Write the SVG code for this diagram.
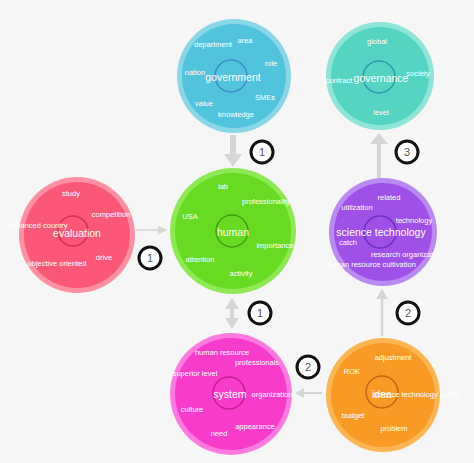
<svg xmlns="http://www.w3.org/2000/svg" width="474" height="463" viewBox="0 0 474 463">
<defs>
<style>
.s{font-family:"Liberation Sans",Arial,sans-serif;font-size:7.5px;fill:#fff;text-anchor:middle}
.b{font-family:"Liberation Sans",Arial,sans-serif;font-size:10.5px;fill:#fff;text-anchor:middle}
.core{fill:none;stroke-width:1.5}
.badge circle{fill:#fff;stroke:#111;stroke-width:3}
.badge text{font-family:"Liberation Sans",Arial,sans-serif;font-size:11px;fill:#555;text-anchor:middle}
.arr{stroke:#d6d6d6;fill:none}
.hd{fill:#d6d6d6}
</style>
</defs>
<rect width="474" height="463" fill="#f6f6f6"/>

<g id="connectors">
<path class="arr" d="M233,135 V155" stroke-width="6"/>
<polygon class="hd" points="224,154 242,154 233,167"/>
<path class="arr" d="M135,230 H160" stroke-width="1.5"/>
<polygon class="hd" points="158,225.5 167,230 158,234.5"/>
<path class="arr" d="M232,308 V320" stroke-width="4"/>
<polygon class="hd" points="225,309 239,309 232,298"/>
<polygon class="hd" points="225,318 239,318 232,329"/>
<path class="arr" d="M322,393 H302" stroke-width="2"/>
<polygon class="hd" points="304,388 295,393 304,398"/>
<path class="arr" d="M382,336 V297" stroke-width="2.5"/>
<polygon class="hd" points="376,299 388,299 382,289"/>
<path class="arr" d="M379,180 V142" stroke-width="4"/>
<polygon class="hd" points="370,144 388,144 379,133"/>
</g>

<g id="government">
<circle cx="234" cy="76" r="57" fill="#8ad6e8"/>
<circle cx="234" cy="76" r="52" fill="#52c3dc"/>
<circle class="core" cx="231" cy="76" r="16" stroke="#3f8ccc"/>
<text class="s" x="213" y="47">department</text>
<text class="s" x="245" y="43">area</text>
<text class="s" x="271" y="66">role</text>
<text class="s" x="195" y="75">nation</text>
<text class="b" x="233" y="81">government</text>
<text class="s" x="265" y="100">SMEs</text>
<text class="s" x="204" y="106">value</text>
<text class="s" x="236" y="117">knowledge</text>
</g>

<g id="governance">
<circle cx="380" cy="76" r="54" fill="#8ee4d8"/>
<circle cx="380" cy="76" r="49" fill="#55d3c3"/>
<circle class="core" cx="379" cy="77" r="16" stroke="#2f9aa8"/>
<text class="s" x="377" y="44">global</text>
<text class="s" x="339" y="83">contract</text>
<text class="b" x="381" y="82">governance</text>
<text class="s" x="418" y="76">society</text>
<text class="s" x="381" y="115">level</text>
</g>

<g id="evaluation">
<circle cx="77" cy="235" r="58" fill="#ff8fa3"/>
<circle cx="77" cy="235" r="53" fill="#fb5878"/>
<circle class="core" cx="73" cy="231" r="15" stroke="#d43050"/>
<text class="s" x="71" y="196">study</text>
<text class="s" x="111" y="217">competition</text>
<text class="s" x="38" y="228">advanced country</text>
<text class="b" x="77" y="237">evaluation</text>
<text class="s" x="104" y="260">drive</text>
<text class="s" x="57" y="266">objective oriented</text>
</g>

<g id="human">
<circle cx="233" cy="231" r="63" fill="#8ee854"/>
<circle cx="233" cy="231" r="58" fill="#66db22"/>
<circle class="core" cx="232" cy="231" r="16" stroke="#3fa010"/>
<text class="s" x="223" y="189">lab</text>
<text class="s" x="266" y="204">professionality</text>
<text class="s" x="190" y="219">USA</text>
<text class="b" x="233" y="236">human</text>
<text class="s" x="275" y="248">importance</text>
<text class="s" x="200" y="262">attention</text>
<text class="s" x="241" y="276">activity</text>
</g>

<g id="science-technology">
<circle cx="383" cy="232" r="54" fill="#b98af0"/>
<circle cx="383" cy="232" r="49" fill="#9f50e6"/>
<circle class="core" cx="380" cy="232" r="16" stroke="#6a2ec0"/>
<text class="s" x="389" y="200">related</text>
<text class="s" x="357" y="210">utilization</text>
<text class="s" x="414" y="223">technology</text>
<text class="b" x="381" y="236">science technology</text>
<text class="s" x="348" y="245">catch</text>
<text class="s" x="407" y="257">research organization</text>
<text class="s" x="371" y="267">human resource cultivation</text>
</g>

<g id="system">
<circle cx="231" cy="394" r="61" fill="#ff7ae0"/>
<circle cx="231" cy="394" r="56" fill="#f73ccc"/>
<circle class="core" cx="229" cy="393" r="16" stroke="#c0208f"/>
<text class="s" x="222" y="355">human resource</text>
<text class="s" x="257" y="365">professionals</text>
<text class="s" x="195" y="376">superior level</text>
<text class="b" x="230" y="398">system</text>
<text class="s" x="272" y="397">organization</text>
<text class="s" x="192" y="412">culture</text>
<text class="s" x="255" y="429">appearance</text>
<text class="s" x="219" y="436">need</text>
</g>

<g id="idea">
<circle cx="383" cy="395" r="57" fill="#fbb552"/>
<circle cx="383" cy="395" r="52" fill="#f89a23"/>
<circle class="core" cx="382" cy="392" r="16" stroke="#c06a10"/>
<text class="s" x="393" y="360">adjustment</text>
<text class="s" x="352" y="374">ROK</text>
<text class="s" x="374" y="397" style="text-anchor:start">science technology policy</text>
<text class="b" x="372" y="398" style="text-anchor:start">idea</text>
<text class="s" x="353" y="418">budget</text>
<text class="s" x="394" y="431">problem</text>
</g>

<g id="badges">
<g class="badge"><circle cx="262" cy="152" r="11"/><text x="262" y="156">1</text></g>
<g class="badge"><circle cx="150" cy="258" r="11"/><text x="150" y="262">1</text></g>
<g class="badge"><circle cx="260" cy="313" r="11"/><text x="260" y="317">1</text></g>
<g class="badge"><circle cx="308" cy="367" r="11"/><text x="308" y="371">2</text></g>
<g class="badge"><circle cx="408" cy="313" r="11"/><text x="408" y="317">2</text></g>
<g class="badge"><circle cx="407" cy="152" r="11"/><text x="407" y="156">3</text></g>
</g>
</svg>
